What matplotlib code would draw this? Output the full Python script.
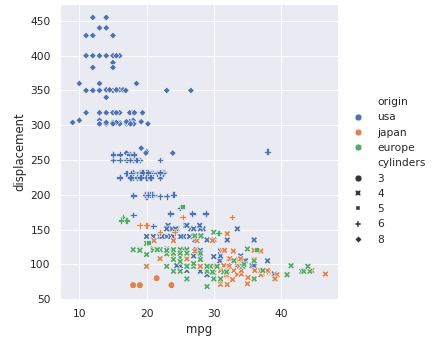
import numpy as np
import pandas as pd
import matplotlib
matplotlib.use("Agg")
import matplotlib.pyplot as plt
from matplotlib.lines import Line2D
import seaborn as sns

# ---------------- data (mpg vs displacement) ----------------
usa_8_mpg = [18, 15, 18, 16, 17, 15, 14, 14, 14, 15, 15, 14, 15, 14,
             10, 10, 11, 9,
             14, 14, 14, 14, 12, 13, 13,
             13, 14, 15, 14, 17, 11, 13, 12, 13, 15, 13, 13, 14,
             13, 14, 13, 14, 15, 12, 13, 13, 14, 13, 12, 13,
             11, 12, 13, 12,
             15, 16, 15, 11,
             16, 13, 14, 14, 14,
             16, 15, 16, 14, 20, 13,
             17.5, 16, 15.5, 14.5,
             13, 16.5, 13, 13, 13,
             17.5, 17, 15.5, 15, 16, 15.5, 15.5, 16,
             19.9, 19.4, 20.2, 19.2, 18.1, 17.5,
             17, 17.6, 16.5, 18.2, 16.9, 15.5, 19.2, 18.5, 23, 23.9,
             26.6]
usa_8_disp = [307, 350, 318, 304, 302, 429, 454, 440, 455, 390, 383, 340, 400, 455,
              360, 307, 318, 304,
              350, 400, 351, 318, 383, 400, 400,
              350, 400, 318, 351, 304, 429, 350, 350, 400, 304, 307, 302, 318,
              350, 304, 350, 302, 318, 429, 400, 351, 318, 440, 455, 360,
              400, 400, 360, 350,
              350, 400, 318, 350,
              302, 350, 318, 302, 304,
              400, 350, 318, 351, 262, 302,
              305, 318, 304, 351,
              318, 350, 350, 302, 318,
              305, 260, 318, 302, 400, 350, 400, 351,
              260, 318, 302, 305, 302, 318,
              305, 302, 351, 318, 350, 351, 267, 360, 350, 260,
              350]

usa_6_mpg = [22, 18, 21, 21,
             19, 16, 17, 19, 18, 18, 19, 18,
             18, 16, 18, 18, 23, 18, 21, 20, 21, 19, 15, 16, 16, 18,
             19, 18, 15, 15, 17, 16, 15, 18, 21, 20, 18, 19,
             22, 22, 24, 22.5, 20, 18, 18.5, 17.5,
             17.5, 20.5, 19, 18.5,
             19.2, 20.5, 20.2, 20.5, 19.4, 20.6, 20.8, 18.6, 18.1, 17.7,
             21.5, 19.8, 20.2, 20.6,
             28.8, 26.8, 19.1, 23.5, 22.4, 20.2, 17.6, 25, 38, 22]
usa_6_disp = [198, 199, 200, 199,
              232, 225, 250, 250, 232, 258, 250, 250,
              225, 250, 232, 250, 198, 232, 155, 198, 200, 232, 250, 250, 258, 225,
              225, 250, 250, 250, 231, 250, 258, 225, 231, 232, 171, 232,
              225, 250, 200, 232, 225, 250, 250, 258,
              250, 231, 225, 250,
              231, 200, 200, 225, 232, 231, 200, 225, 258, 231,
              231, 200, 232, 225,
              173, 173, 225, 173, 231, 200, 225, 181, 262, 232]

usa_4_mpg = [28, 25, 22, 23, 26, 25, 20, 21, 22, 28,
             21, 19, 26, 25, 28, 23, 23, 25, 26, 29, 24.5, 26.5,
             30, 25.5, 24.5, 25.5, 30.5, 33.5, 36.1, 25.1, 30, 30.9, 23.2, 23.8, 22.3,
             35.7, 27.4, 34.2, 34.5, 28.4, 33.5, 32.1, 28, 26.4, 24.3, 27.9, 23.6,
             27.2, 26.6, 25.8, 30, 39, 34.7, 34.4, 29.9,
             28, 27, 34, 31, 29, 27, 24, 23, 38, 36, 26, 36, 27, 27, 32, 28, 31]
usa_4_disp = [140, 98, 140, 122, 91, 97.5, 140, 122, 122, 98,
              140, 122, 122, 140, 90, 140, 140, 140, 98, 85, 98, 140,
              111, 122, 151, 140, 98, 98, 98, 140, 98, 105, 156, 151, 140,
              98, 121, 105, 105, 151, 151, 98, 151, 140, 151, 156, 140,
              135, 151, 156, 135, 86, 105, 98, 98,
              112, 112, 112, 112, 135, 151, 140, 151, 105, 98, 156, 135, 151, 140, 135, 120, 119]

japan_4_mpg = [24, 27, 27, 25, 31, 35, 24, 28, 23, 27,
               20, 22, 31, 32, 31, 32, 24, 26, 29, 24, 24, 33, 33, 32, 28,
               31.5, 33.5, 26, 30,
               32.8, 39.4, 36.1, 27.5, 27.2, 21.1, 23.9, 29.5, 34.1, 31.8,
               38.1, 37.2, 29.8, 31.3, 37, 32.2, 46.6, 40.8, 44.6, 33.8, 32.4,
               39.1, 35.1, 32.3, 37, 37.7, 34.1, 33.7, 32.4, 32.9, 31.6,
               37, 31, 36, 36, 34, 38, 32, 38, 32]
japan_4_disp = [113, 97, 97, 113, 71, 72, 113, 97, 120, 97,
                97, 108, 79, 71, 76, 83, 120, 108, 97, 134, 119, 91, 91, 85, 97,
                98, 85, 97, 97,
                78, 85, 91, 134, 119, 134, 119, 98, 86, 85,
                89, 86, 134, 120, 119, 108, 86, 85, 91, 97, 107,
                79, 81, 97, 85, 89, 91, 107, 108, 119, 120,
                91, 91, 120, 107, 108, 91, 91, 91, 144]

japan_3_mpg = [19, 18, 21.5, 23.7]
japan_3_disp = [70, 70, 80, 70]

japan_6_mpg = [20, 19, 22, 32.7, 25.4, 24.2]
japan_6_disp = [156, 156, 146, 168, 168, 146]

europe_4_mpg = [26, 25, 24, 25, 26, 28, 30, 30, 27, 23,
                18, 22, 21, 26, 26, 26, 29, 24, 20, 19, 24,
                29, 26, 26, 24, 26, 31, 25, 29, 23, 23, 22, 25,
                28, 25, 27, 29, 29.5, 20, 19, 36, 29, 30.5, 21.5,
                43.1, 21.6, 31.5, 31.9, 27.2, 37.3, 41.5, 34.3, 44.3, 43.4, 30, 40.9, 29.8, 35,
                33, 34.5, 28.1, 36, 44]
europe_4_disp = [97, 110, 107, 104, 121, 116, 79, 88, 97, 97,
                 121, 121, 120, 96, 97, 98, 68, 116, 114, 121, 121,
                 98, 79, 97, 90, 116, 79, 90, 90, 115, 120, 121, 121,
                 107, 116, 101, 90, 97, 130, 120, 79, 97, 97, 121,
                 90, 121, 89, 89, 141, 91, 98, 97, 90, 90, 146, 85, 89, 122,
                 105, 100, 141, 105, 97]

europe_5_mpg = [20.3, 25.4, 36.4]
europe_5_disp = [131, 183, 121]

europe_6_mpg = [16.5, 17, 16.2, 30.7]
europe_6_disp = [168, 163, 163, 145]

origin_order = ["usa", "japan", "europe"]
cylinder_order = [3, 4, 5, 6, 8]

groups = [
    ("usa", 8, usa_8_mpg, usa_8_disp),
    ("usa", 6, usa_6_mpg, usa_6_disp),
    ("usa", 4, usa_4_mpg, usa_4_disp),
    ("japan", 4, japan_4_mpg, japan_4_disp),
    ("japan", 3, japan_3_mpg, japan_3_disp),
    ("japan", 6, japan_6_mpg, japan_6_disp),
    ("europe", 4, europe_4_mpg, europe_4_disp),
    ("europe", 5, europe_5_mpg, europe_5_disp),
    ("europe", 6, europe_6_mpg, europe_6_disp),
]

frames = [pd.DataFrame({"mpg": m, "displacement": d, "origin": o, "cylinders": c})
          for o, c, m, d in groups]
df = pd.concat(frames, ignore_index=True)

# ---------------- plot ----------------
sns.set_theme()
DPI = 69.4
MS = 50
palette = sns.color_palette("deep", 3)
marker_list = ["o", "X", (4, 0, 45), "P", (4, 0, 0)]
style_markers = dict(zip(cylinder_order, marker_list))

fig = plt.figure(figsize=(436 / DPI, 347 / DPI), dpi=DPI)
ax = fig.add_axes([60 / 436, 47 / 347, 278 / 436, 296 / 347])
sns.scatterplot(data=df, x="mpg", y="displacement", hue="origin",
                style="cylinders", hue_order=origin_order, palette=palette,
                markers=style_markers, style_order=cylinder_order,
                s=MS, ax=ax, legend=False)

ms = np.sqrt(MS)
handles, labels = [], []
handles.append(Line2D([], [], linestyle="", visible=False)); labels.append("origin")
for o, c in zip(origin_order, palette):
    handles.append(Line2D([], [], linestyle="", marker="o", markersize=ms,
                          markerfacecolor=c, markeredgecolor="w",
                          markeredgewidth=0.5))
    labels.append(o)
handles.append(Line2D([], [], linestyle="", visible=False)); labels.append("cylinders")
for cyl in cylinder_order:
    handles.append(Line2D([], [], linestyle="", marker=style_markers[cyl],
                          markersize=ms, markerfacecolor=".2",
                          markeredgecolor="w", markeredgewidth=0.5))
    labels.append(str(cyl))
ax.legend(handles, labels, loc="center left", bbox_to_anchor=(1.0, 0.436),
          frameon=False)
fig.savefig("out.png", dpi=DPI)
